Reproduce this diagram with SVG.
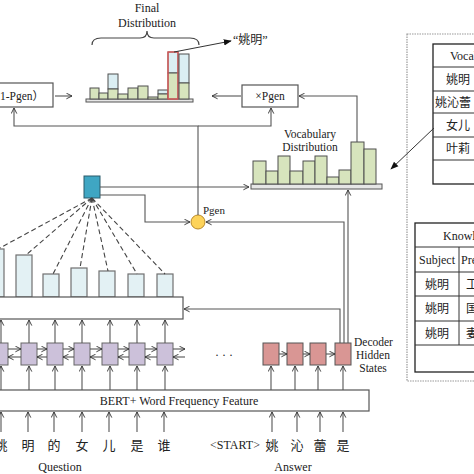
<svg xmlns="http://www.w3.org/2000/svg" width="474" height="474" viewBox="0 0 474 474">
<defs>
<marker id="oa" viewBox="0 0 10 10" refX="9" refY="5" markerWidth="7" markerHeight="7" orient="auto" markerUnits="userSpaceOnUse"><path d="M1,1 L9,5 L1,9" fill="none" stroke="#333" stroke-width="1.3"/></marker>
<marker id="fa" viewBox="0 0 10 10" refX="9" refY="5" markerWidth="8" markerHeight="8" orient="auto" markerUnits="userSpaceOnUse"><path d="M0,1 L10,5 L0,9 z" fill="#111"/></marker>
<style>
.t{font-family:"Liberation Serif","Noto Sans CJK SC",serif;fill:#222}
.c{font-family:"Noto Sans CJK SC","Liberation Sans",sans-serif;fill:#222}
.ln{fill:none;stroke:#555;stroke-width:1.2}
.ar{fill:none;stroke:#555;stroke-width:1.1;marker-end:url(#oa)}
.ds{fill:none;stroke:#444;stroke-width:1.1;stroke-dasharray:5 3}
.g{fill:#d7e4bd;stroke:#4f4f4f;stroke-width:1}
.b{fill:#dbeef3;stroke:#4f4f4f;stroke-width:1}
.att{fill:#e3f1f4;stroke:#707070;stroke-width:1.2}
.enc{fill:#ccc1da;stroke:#666;stroke-width:1}
.dec{fill:#d99694;stroke:#555;stroke-width:1}
.box{fill:#fff;stroke:#555;stroke-width:1.2}
.plat{fill:#e6e6e6;stroke:#555;stroke-width:1}
.tb{fill:#fff;stroke:#222;stroke-width:1.3}
.tl{stroke:#333;stroke-width:1}
</style>
</defs>
<rect width="474" height="474" fill="#fff"/>

<!-- Final distribution -->
<g id="final-dist">
<text class="t" x="147" y="12" font-size="12" text-anchor="middle">Final</text>
<text class="t" x="147" y="27" font-size="12" text-anchor="middle">Distribution</text>
<path d="M92,45 Q92,38 101,38 L140,38 Q147,38 147,31 Q147,38 154,38 L190,38 Q199,38 199,45" fill="none" stroke="#444" stroke-width="1.2"/>
<rect class="plat" x="86" y="99" width="107" height="3"/>
<rect class="g" x="90" y="88" width="9" height="11"/>
<rect class="g" x="99" y="93" width="9" height="6"/>
<rect class="b" x="108" y="74" width="10" height="15"/>
<rect class="g" x="108" y="89" width="10" height="10"/>
<rect class="g" x="118" y="94" width="10" height="5"/>
<rect class="g" x="128" y="88" width="10" height="11"/>
<rect class="g" x="138" y="86" width="10" height="13"/>
<rect class="g" x="148" y="97" width="10" height="2"/>
<rect class="b" x="158" y="90" width="10" height="4"/>
<rect class="g" x="158" y="94" width="10" height="5"/>
<rect class="b" x="168" y="52" width="10" height="21"/>
<rect class="g" x="168" y="73" width="10" height="26"/>
<rect x="168" y="52" width="10" height="47" fill="none" stroke="#e05555" stroke-width="1.3"/>
<rect class="b" x="179" y="54" width="10" height="29"/>
<rect class="g" x="179" y="83" width="10" height="16"/>
<text class="t" x="233" y="44" font-size="12">“姚明”</text>
</g>

<!-- (1-Pgen) box -->
<g id="one-minus-pgen">
<rect class="box" x="-5" y="83" width="58" height="24"/>
<text class="t" x="0" y="100" font-size="11.5">1-Pgen）</text>
</g>

<!-- xPgen box -->
<g id="times-pgen">
<rect class="box" x="242" y="85" width="56" height="22"/>
<text class="t" x="270" y="100" font-size="11.5" text-anchor="middle">×Pgen</text>
</g>

<!-- Vocabulary distribution -->
<g id="vocab-dist">
<text class="t" x="310" y="138" font-size="11.5" text-anchor="middle">Vocabulary</text>
<text class="t" x="310" y="151" font-size="11.5" text-anchor="middle">Distribution</text>
<rect class="plat" x="251" y="184" width="131" height="5"/>
<rect class="g" x="253" y="161" width="13" height="23"/>
<rect class="g" x="266" y="171" width="12" height="13"/>
<rect class="g" x="278" y="156" width="12" height="28"/>
<rect class="g" x="290" y="171" width="13" height="13"/>
<rect class="g" x="303" y="161" width="12" height="23"/>
<rect class="g" x="315" y="156" width="12" height="28"/>
<rect class="g" x="327" y="177" width="12" height="7"/>
<rect class="g" x="339" y="170" width="12" height="14"/>
<rect class="g" x="351" y="142" width="13" height="42"/>
<rect class="g" x="364" y="149" width="12" height="35"/>
</g>

<!-- Context vector -->
<g id="context-vector">
<rect x="84" y="176" width="16" height="22" fill="#3fa6c3" stroke="#2b5a6a" stroke-width="1"/>
</g>

<!-- Pgen circle -->
<g id="pgen">
<circle cx="198" cy="222" r="7" fill="#fdd35a" stroke="#b98a2a" stroke-width="1"/>
<text class="t" x="203" y="214" font-size="11">Pgen</text>
</g>

<!-- Attention distribution -->
<g id="attention">
<rect class="att" x="-8" y="249" width="12" height="48"/>
<rect class="att" x="16" y="255" width="16" height="42"/>
<rect class="att" x="43" y="274" width="16" height="23"/>
<rect class="att" x="71" y="268" width="16" height="29"/>
<rect class="att" x="99" y="271" width="16" height="26"/>
<rect class="att" x="128" y="274" width="16" height="23"/>
<rect class="att" x="157" y="274" width="16" height="23"/>
<rect class="box" x="-5" y="297" width="188" height="22"/>
</g>

<!-- Encoder hidden states -->
<g id="encoder">
<rect class="enc" x="-8" y="343" width="16" height="22"/>
<rect class="enc" x="21" y="343" width="16" height="22"/>
<rect class="enc" x="47" y="343" width="16" height="22"/>
<rect class="enc" x="74" y="343" width="16" height="22"/>
<rect class="enc" x="102" y="343" width="16" height="22"/>
<rect class="enc" x="129" y="343" width="16" height="22"/>
<rect class="enc" x="157" y="343" width="16" height="22"/>
<text class="t" x="224" y="359" font-size="12" text-anchor="middle">· · ·</text>
</g>

<!-- Decoder hidden states -->
<g id="decoder">
<rect class="dec" x="263" y="343" width="16" height="22"/>
<rect class="dec" x="287" y="343" width="16" height="22"/>
<rect class="dec" x="310" y="343" width="16" height="22"/>
<rect class="dec" x="335" y="343" width="16" height="22"/>
<text class="t" x="354" y="346" font-size="11.5">Decoder</text>
<text class="t" x="373" y="359" font-size="11.5" text-anchor="middle">Hidden</text>
<text class="t" x="373" y="372" font-size="11.5" text-anchor="middle">States</text>
</g>

<!-- BERT -->
<g id="bert">
<rect class="box" x="-5" y="390" width="374" height="21"/>
<text class="t" x="179" y="405" font-size="12" text-anchor="middle">BERT+ Word Frequency Feature</text>
</g>

<!-- Inputs -->
<g id="question">
<text class="c" x="1" y="450" font-size="13" text-anchor="middle">姚</text>
<text class="c" x="28" y="450" font-size="13" text-anchor="middle">明</text>
<text class="c" x="54" y="450" font-size="13" text-anchor="middle">的</text>
<text class="c" x="82" y="450" font-size="13" text-anchor="middle">女</text>
<text class="c" x="109" y="450" font-size="13" text-anchor="middle">儿</text>
<text class="c" x="137" y="450" font-size="13" text-anchor="middle">是</text>
<text class="c" x="164" y="450" font-size="13" text-anchor="middle">谁</text>
<text class="t" x="60" y="471" font-size="12" text-anchor="middle">Question</text>
</g>
<g id="answer">
<text class="t" x="235" y="449" font-size="12" text-anchor="middle">&lt;START&gt;</text>
<text class="c" x="272" y="450" font-size="13" text-anchor="middle">姚</text>
<text class="c" x="297" y="450" font-size="13" text-anchor="middle">沁</text>
<text class="c" x="320" y="450" font-size="13" text-anchor="middle">蕾</text>
<text class="c" x="343" y="450" font-size="13" text-anchor="middle">是</text>
<text class="t" x="293" y="471" font-size="12" text-anchor="middle">Answer</text>
</g>

<!-- Knowledge panel -->
<g id="knowledge-panel">
<rect x="407" y="34" width="100" height="347" fill="none" stroke="#999" stroke-width="1.2" stroke-dasharray="1.5 1"/>
</g>
<g id="vocab-table">
<rect class="tb" x="433" y="44" width="80" height="140"/>
<line class="tl" x1="433" y1="67" x2="474" y2="67"/>
<line class="tl" x1="433" y1="91" x2="474" y2="91"/>
<line class="tl" x1="433" y1="113" x2="474" y2="113"/>
<line class="tl" x1="433" y1="137" x2="474" y2="137"/>
<line class="tl" x1="433" y1="160" x2="474" y2="160"/>
<text class="t" x="450" y="60" font-size="12">Vocabulary</text>
<text class="c" x="458" y="84" font-size="12" text-anchor="middle">姚明</text>
<text class="c" x="435" y="107" font-size="12">姚沁蕾</text>
<text class="c" x="458" y="130" font-size="12" text-anchor="middle">女儿</text>
<text class="c" x="458" y="153" font-size="12" text-anchor="middle">叶莉</text>
</g>
<g id="kb-table">
<rect class="tb" x="415" y="223" width="80" height="149"/>
<line class="tl" x1="415" y1="247" x2="474" y2="247"/>
<line class="tl" x1="415" y1="272" x2="474" y2="272"/>
<line class="tl" x1="415" y1="296" x2="474" y2="296"/>
<line class="tl" x1="415" y1="321" x2="474" y2="321"/>
<line class="tl" x1="415" y1="345" x2="474" y2="345"/>
<line class="tl" x1="459" y1="247" x2="459" y2="345"/>
<text class="t" x="443" y="240" font-size="12">Knowledge</text>
<text class="t" x="437" y="264" font-size="12" text-anchor="middle">Subject</text>
<text class="t" x="461" y="264" font-size="12">Predicate</text>
<text class="c" x="437" y="289" font-size="12" text-anchor="middle">姚明</text>
<text class="c" x="437" y="313" font-size="12" text-anchor="middle">姚明</text>
<text class="c" x="437" y="338" font-size="12" text-anchor="middle">姚明</text>
<text class="c" x="466" y="289" font-size="12">工作</text>
<text class="c" x="466" y="313" font-size="12">国籍</text>
<text class="c" x="466" y="338" font-size="12">妻子</text>
</g>

<!-- Connectors -->
<g id="connectors">
<line x1="174" y1="52" x2="231" y2="41" stroke="#333" stroke-width="1" marker-end="url(#fa)"/>
<line x1="434" y1="128" x2="391" y2="169" stroke="#333" stroke-width="1" marker-end="url(#fa)"/>
<line class="ar" x1="55" y1="96" x2="72" y2="96"/>
<line class="ar" x1="241" y1="96" x2="212" y2="96"/>
<polyline class="ar" points="357,142 357,96 299,96"/>
<polyline class="ar" points="198,215 198,126 14,126 14,108"/>
<polyline class="ar" points="198,126 271,126 271,108"/>
<polyline class="ar" points="100,187 249,187"/>
<polyline class="ar" points="100,195 145,195 145,222 190,222"/>
<polyline class="ar" points="344,343 344,222 206,222"/>
<polyline class="ar" points="348,343 348,190"/>
<polyline class="ar" points="340,343 340,309 184,309"/>
<!-- dashed attention -->
<line class="ds" x1="92" y1="198" x2="-2" y2="249"/>
<line class="ds" x1="92" y1="198" x2="26" y2="255"/>
<line class="ds" x1="92" y1="198" x2="53" y2="274"/>
<line class="ds" x1="92" y1="198" x2="80" y2="268"/>
<line class="ds" x1="92" y1="198" x2="108" y2="271"/>
<line class="ds" x1="92" y1="198" x2="137" y2="274"/>
<line class="ds" x1="92" y1="198" x2="165" y2="274"/>
<!-- encoder to attention box -->
<line class="ar" x1="1" y1="343" x2="1" y2="320"/>
<line class="ar" x1="29" y1="343" x2="29" y2="320"/>
<line class="ar" x1="55" y1="343" x2="55" y2="320"/>
<line class="ar" x1="82" y1="343" x2="82" y2="320"/>
<line class="ar" x1="110" y1="343" x2="110" y2="320"/>
<line class="ar" x1="137" y1="343" x2="137" y2="320"/>
<line class="ar" x1="165" y1="343" x2="165" y2="320"/>
<!-- bidirectional encoder -->
<line class="ar" x1="8" y1="349" x2="21" y2="349"/>
<line class="ar" x1="21" y1="357" x2="8" y2="357"/>
<line class="ar" x1="37" y1="349" x2="47" y2="349"/>
<line class="ar" x1="47" y1="357" x2="37" y2="357"/>
<line class="ar" x1="63" y1="349" x2="74" y2="349"/>
<line class="ar" x1="74" y1="357" x2="63" y2="357"/>
<line class="ar" x1="90" y1="349" x2="102" y2="349"/>
<line class="ar" x1="102" y1="357" x2="90" y2="357"/>
<line class="ar" x1="118" y1="349" x2="129" y2="349"/>
<line class="ar" x1="129" y1="357" x2="118" y2="357"/>
<line class="ar" x1="145" y1="349" x2="157" y2="349"/>
<line class="ar" x1="157" y1="357" x2="145" y2="357"/>
<line class="ar" x1="173" y1="349" x2="185" y2="349"/>
<line class="ar" x1="185" y1="357" x2="173" y2="357"/>
<!-- decoder chain -->
<line class="ar" x1="279" y1="354" x2="287" y2="354"/>
<line class="ar" x1="303" y1="354" x2="310" y2="354"/>
<line class="ar" x1="326" y1="354" x2="335" y2="354"/>
<!-- BERT to encoder/decoder -->
<line class="ar" x1="1" y1="390" x2="1" y2="366"/>
<line class="ar" x1="29" y1="390" x2="29" y2="366"/>
<line class="ar" x1="55" y1="390" x2="55" y2="366"/>
<line class="ar" x1="82" y1="390" x2="82" y2="366"/>
<line class="ar" x1="110" y1="390" x2="110" y2="366"/>
<line class="ar" x1="137" y1="390" x2="137" y2="366"/>
<line class="ar" x1="165" y1="390" x2="165" y2="366"/>
<line class="ar" x1="271" y1="390" x2="271" y2="366"/>
<line class="ar" x1="295" y1="390" x2="295" y2="366"/>
<line class="ar" x1="318" y1="390" x2="318" y2="366"/>
<line class="ar" x1="343" y1="390" x2="343" y2="366"/>
<!-- inputs to BERT -->
<line class="ar" x1="1" y1="432" x2="1" y2="412"/>
<line class="ar" x1="28" y1="432" x2="28" y2="412"/>
<line class="ar" x1="54" y1="432" x2="54" y2="412"/>
<line class="ar" x1="82" y1="432" x2="82" y2="412"/>
<line class="ar" x1="109" y1="432" x2="109" y2="412"/>
<line class="ar" x1="137" y1="432" x2="137" y2="412"/>
<line class="ar" x1="164" y1="432" x2="164" y2="412"/>
<line class="ar" x1="272" y1="432" x2="272" y2="412"/>
<line class="ar" x1="297" y1="432" x2="297" y2="412"/>
<line class="ar" x1="320" y1="432" x2="320" y2="412"/>
<line class="ar" x1="343" y1="432" x2="343" y2="412"/>
</g>
</svg>
